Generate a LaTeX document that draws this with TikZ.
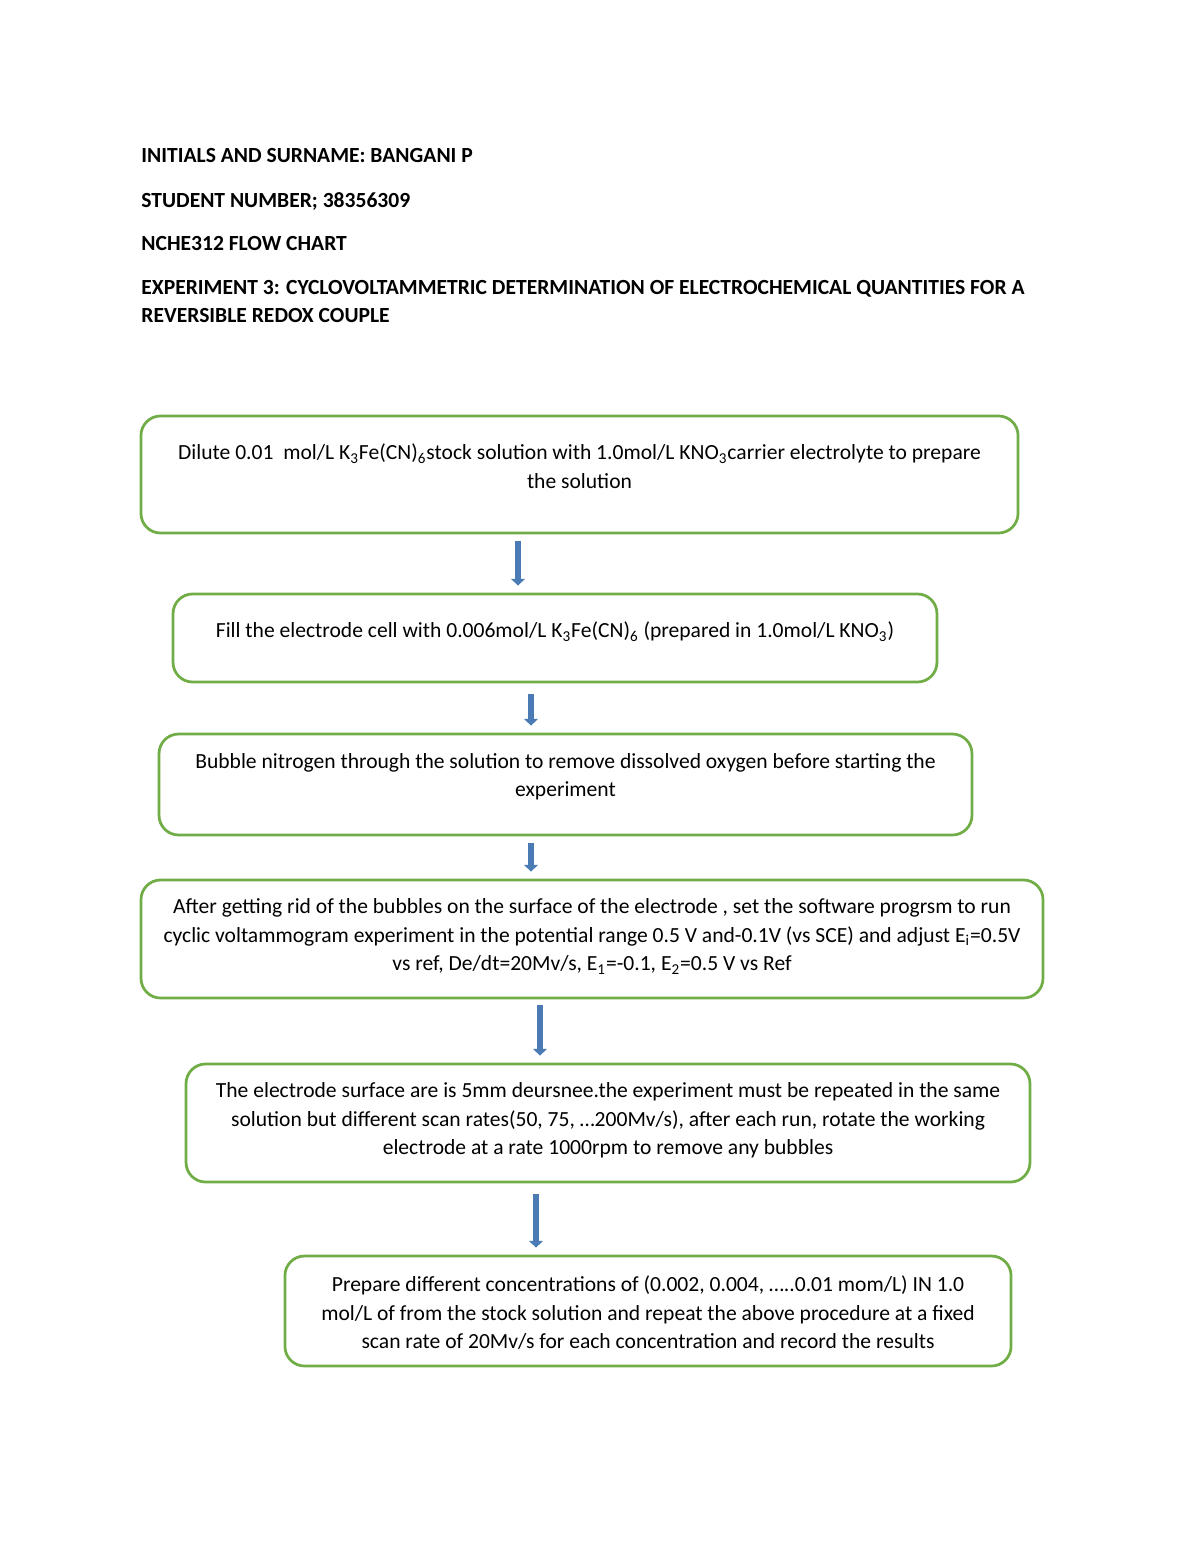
\documentclass[tikz,border=0pt]{standalone}
\usepackage{fontspec}
\setmainfont{Carlito}
\usepackage{tikz}
\usetikzlibrary{arrows.meta,positioning,calc}
\definecolor{StepGreen}{HTML}{70AD47}
\definecolor{ArrBlue}{HTML}{4A7BB5}
\newcommand{\sub}[1]{\textsubscript{#1}}

\begin{document}
\begin{tikzpicture}[
			x=0.51pt,y=-0.51pt,
			head/.style={anchor=north west,inner sep=0,font=\bfseries\fontsize{11pt}{14.3pt}\selectfont,align=left},
			box/.style={draw=StepGreen,line width=1.4pt,rounded corners=10pt},
			txt/.style={anchor=north,inner sep=0,align=center,font=\fontsize{11pt}{14.5pt}\selectfont},
			arr/.style={-{Triangle[width=7pt,length=3.4pt]},line width=3.5pt,color=ArrBlue,shorten <=3.4pt,shorten >=3.6pt}
		]
		\useasboundingbox (0,0) rectangle (1200,1553);
		% header
		\node[head] (who) at (141,148) {INITIALS AND SURNAME: BANGANI P};
		\node[head] (num) at (141,192) {STUDENT NUMBER; 38356309};
		\node[head] (chart) at (141,236) {NCHE312 FLOW CHART};
		\node[head] (expt) at (141,280) {EXPERIMENT 3: CYCLOVOLTAMMETRIC DETERMINATION OF ELECTROCHEMICAL QUANTITIES FOR A\\REVERSIBLE REDOX COUPLE};
		% steps
		\node[box,minimum width=447.3pt,minimum height=59.7pt] (dilute) at (579.5,474.5) {};
		\node[box,minimum width=389.6pt,minimum height=44.9pt] (fill) at (555,638) {};
		\node[box,minimum width=414.6pt,minimum height=51.5pt] (bubble) at (565.5,784.5) {};
		\node[box,minimum width=460pt,minimum height=60.2pt] (setup) at (592,939) {};
		\node[box,minimum width=430.4pt,minimum height=60.2pt] (scan) at (608,1123) {};
		\node[box,minimum width=370.3pt,minimum height=56.1pt] (conc) at (648,1311) {};
		\node[txt,yshift=-14.8pt] (dilutetxt) at (dilute.north) {Dilute 0.01 \ mol/L K\sub{3}Fe(CN)\sub{6}stock solution with 1.0mol/L KNO\sub{3}carrier electrolyte to prepare\\the solution};
		\node[txt,yshift=-14.8pt] (filltxt) at (fill.north) {Fill the electrode cell with 0.006mol/L K\sub{3}Fe(CN)\sub{6} (prepared in 1.0mol/L KNO\sub{3})};
		\node[txt,yshift=-10.2pt] (bubbletxt) at (bubble.north) {Bubble nitrogen through the solution to remove dissolved oxygen before starting the\\experiment};
		\node[txt,yshift=-10.2pt] (setuptxt) at (setup.north) {After getting rid of the bubbles on the surface of the electrode , set the software progrsm to run\\cyclic voltammogram experiment in the potential range 0.5 V and-0.1V (vs SCE) and adjust E\sub{i}=0.5V\\vs ref, De/dt=20Mv/s, E\sub{1}=-0.1, E\sub{2}=0.5 V vs Ref};
		\node[txt,yshift=-10.2pt] (scantxt) at (scan.north) {The electrode surface are is 5mm deursnee.the experiment must be repeated in the same\\solution but different scan rates(50, 75, \dots200Mv/s), after each run, rotate the working\\electrode at a rate 1000rpm to remove any bubbles};
		\node[txt,yshift=-10.7pt] (conctxt) at (conc.north) {Prepare different concentrations of (0.002, 0.004, \dots..0.01 mom/L) IN 1.0\\mol/L of from the stock solution and repeat the above procedure at a fixed\\scan rate of 20Mv/s for each concentration and record the results};
		% arrows
		\coordinate (c1) at (518,0);
		\coordinate (c2) at (531,0);
		\coordinate (c3) at (540,0);
		\coordinate (c4) at (536,0);
		\draw[arr] (dilute.south -| c1)--(fill.north -| c1);
		\draw[arr,shorten <=5.6pt] (fill.south -| c2)--(bubble.north -| c2);
		\draw[arr] (bubble.south -| c2)--(setup.north -| c2);
		\draw[arr,shorten <=2.6pt] (setup.south -| c3)--(scan.north -| c3);
		\draw[arr,shorten <=5.6pt] (scan.south -| c4)--(conc.north -| c4);
	\end{tikzpicture}
\end{document}
